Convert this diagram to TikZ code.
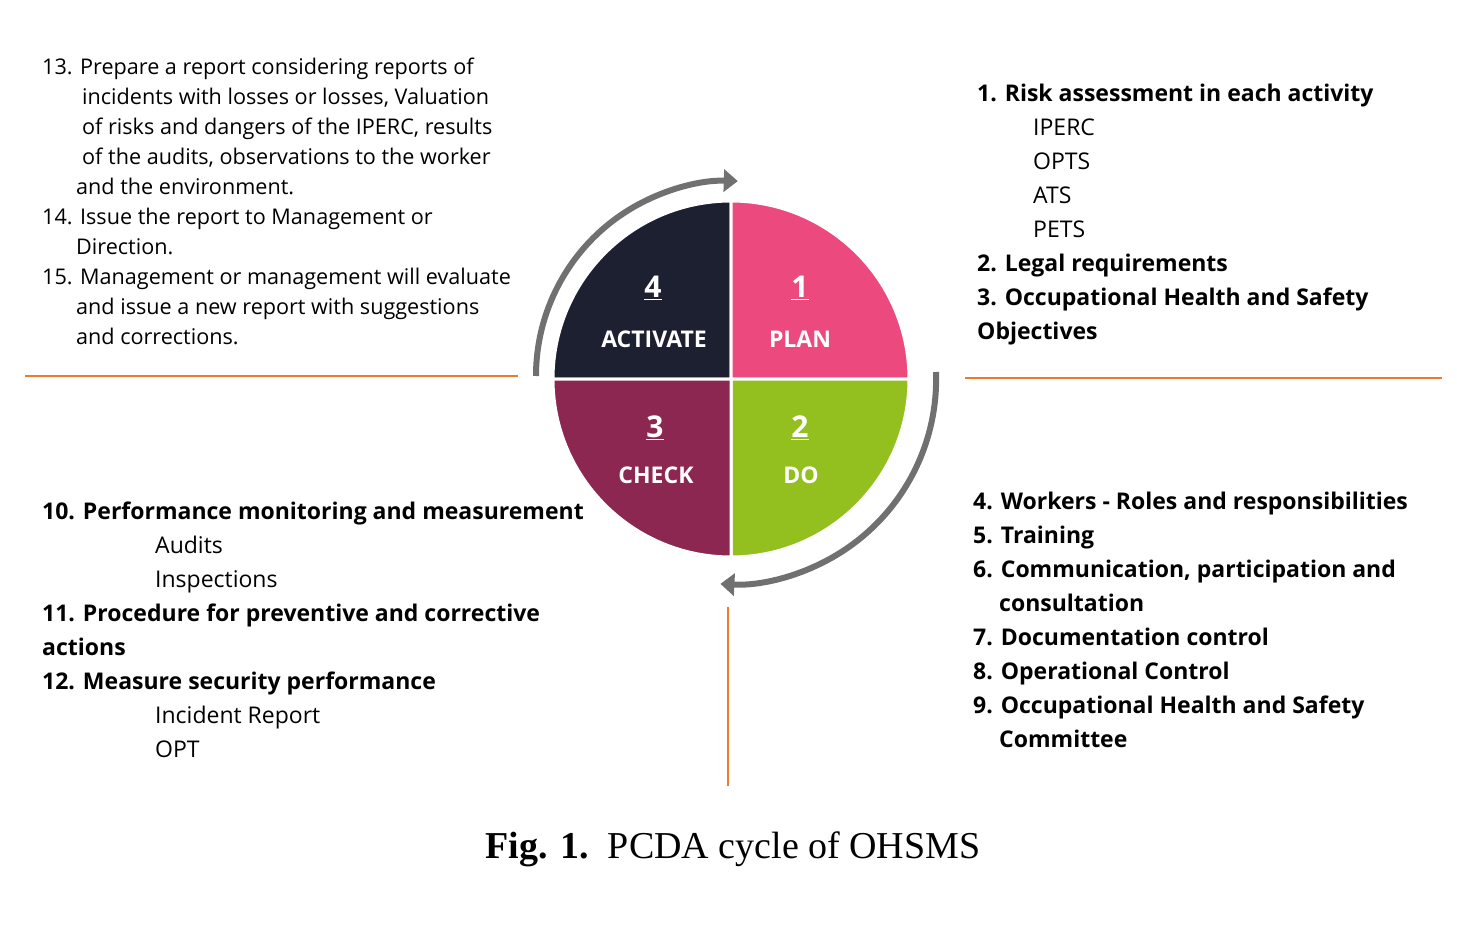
\documentclass[tikz,border=0pt]{standalone}
\usepackage{fontspec}
\setmainfont{Open Sans}
\newfontfamily\capfont{Liberation Serif}
\usetikzlibrary{arrows.meta}
\definecolor{qblack}{HTML}{1C2030}
\definecolor{qpink}{HTML}{EC4A7E}
\definecolor{qgreen}{HTML}{93C01F}
\definecolor{qred}{HTML}{8C2751}
\definecolor{arrgray}{HTML}{707070}
\definecolor{orng}{HTML}{EE7A30}
\begin{document}
\begin{tikzpicture}[x=1pt,y=-1pt,
  quad/.style={draw=white,line width=3pt},
  qlab/.style={text=white,font=\bfseries\fontsize{23}{26}\selectfont},
  qnum/.style={text=white,font=\bfseries\fontsize{30}{32}\selectfont},
  blk/.style={anchor=north west,inner sep=0pt,align=left,font=\fontsize{23}{34}\selectfont},
  sblk/.style={anchor=north west,inner sep=0pt,align=left,font=\fontsize{21.6}{30}\selectfont},
  sep/.style={draw=orng,line width=2.5pt},
  cyc/.style={draw=arrgray,line width=6pt,-{Triangle[length=14pt,width=22pt]}}]
\useasboundingbox (0,0) rectangle (1457,942);
\coordinate (c) at (731,379);
\fill[qblack,quad] (c) -- (553,379) arc[start angle=180,end angle=270,radius=178] -- cycle;
\fill[qpink,quad] (c) -- (731,201) arc[start angle=270,end angle=360,radius=178] -- cycle;
\fill[qgreen,quad] (c) -- (909,379) arc[start angle=0,end angle=90,radius=178] -- cycle;
\fill[qred,quad] (c) -- (731,557) arc[start angle=90,end angle=180,radius=178] -- cycle;
\draw[cyc] (536,376) arc[start angle=180,end angle=272,radius=195];
\draw[cyc] (936,372) arc[start angle=-2,end angle=93,radius=205];
\node[qnum] (n4) at (653,288) {\underline{4}};
\node[qnum] (n1) at (800,288) {\underline{1}};
\node[qnum] (n3) at (655,428) {\underline{3}};
\node[qnum] (n2) at (800,428) {\underline{2}};
\node[qlab] (l4) at (654,339) {ACTIVATE};
\node[qlab] (l1) at (800,339) {PLAN};
\node[qlab] (l3) at (656,475) {CHECK};
\node[qlab] (l2) at (801,475) {DO};
\coordinate (h1a) at (25,376); \coordinate (h1b) at (518,376);
\coordinate (h2a) at (965,378); \coordinate (h2b) at (1442,378);
\coordinate (v1a) at (728,607); \coordinate (v1b) at (728,786);
\draw[sep] (h1a) -- (h1b);
\draw[sep] (h2a) -- (h2b);
\draw[sep] (v1a) -- (v1b);
\node[sblk] (tl) at (42,58) {13. Prepare a report considering reports of\\
\hspace*{40pt}incidents with losses or losses, Valuation\\
\hspace*{40pt}of risks and dangers of the IPERC, results\\
\hspace*{40pt}of the audits, observations to the worker\\
\hspace*{34pt}and the environment.\\
14. Issue the report to Management or\\
\hspace*{34pt}Direction.\\
15. Management or management will evaluate\\
\hspace*{34pt}and issue a new report with suggestions\\
\hspace*{34pt}and corrections.};
\node[blk] (tr) at (977,84) {\textbf{1. Risk assessment in each activity}\\
\hspace*{56pt}IPERC\\
\hspace*{56pt}OPTS\\
\hspace*{56pt}ATS\\
\hspace*{56pt}PETS\\
\textbf{2. Legal requirements}\\
\textbf{3. Occupational Health and Safety}\\
\textbf{Objectives}};
\node[blk] (bl) at (42,502) {\textbf{10. Performance monitoring and measurement}\\
\hspace*{113pt}Audits\\
\hspace*{113pt}Inspections\\
\textbf{11. Procedure for preventive and corrective}\\
\textbf{actions}\\
\textbf{12. Measure security performance}\\
\hspace*{113pt}Incident Report\\
\hspace*{113pt}OPT};
\node[blk] (br) at (973,492) {\textbf{4. Workers - Roles and responsibilities}\\
\textbf{5. Training}\\
\textbf{6. Communication, participation and}\\
\hspace*{26pt}\textbf{consultation}\\
\textbf{7. Documentation control}\\
\textbf{8. Operational Control}\\
\textbf{9. Occupational Health and Safety}\\
\hspace*{26pt}\textbf{Committee}};
\node[font=\capfont\fontsize{38}{40}\selectfont] (cap) at (733,849) {\textbf{Fig. 1.}\ \ PCDA cycle of OHSMS};
\end{tikzpicture}
\end{document}
